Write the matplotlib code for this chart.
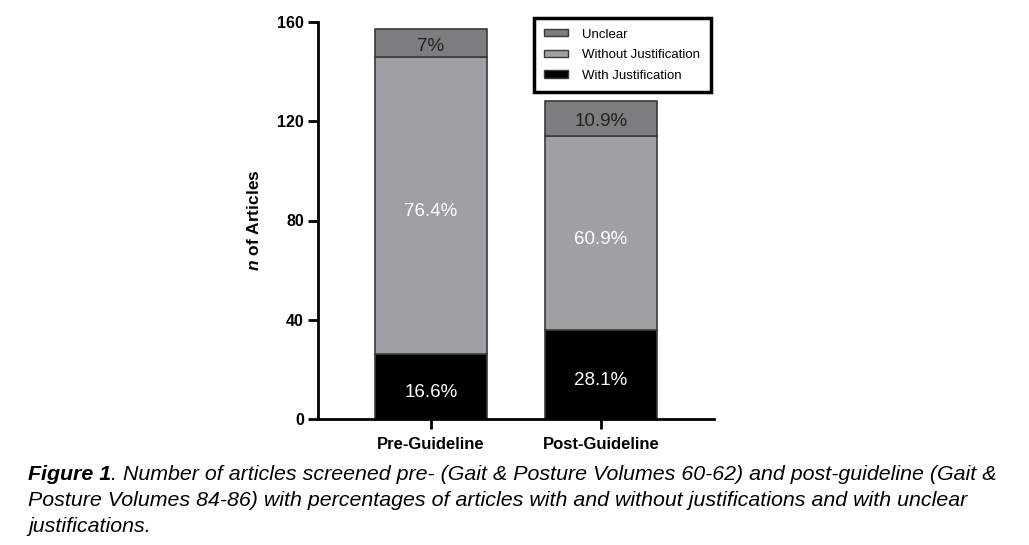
import matplotlib
matplotlib.use("Agg")
import matplotlib.pyplot as plt
from matplotlib.patches import Patch
import numpy as np

plt.rcParams['font.family'] = ['Liberation Sans', 'DejaVu Sans']
plt.rcParams['mathtext.fontset'] = 'custom'
plt.rcParams['mathtext.it'] = 'Liberation Sans:italic:bold'

# data
groups = ["Pre-Guideline", "Post-Guideline"]
with_just = [26, 36]
without_just = [120, 78]
unclear = [11, 14]
pct_with = ["16.6%", "28.1%"]
pct_without = ["76.4%", "60.9%"]
pct_unclear = ["7%", "10.9%"]

col_with = "#000000"
col_without = "#a0a0a4"
col_unclear = "#7d7d7f"
edge = "#3a3a3a"

fig = plt.figure(figsize=(10.29, 5.45), dpi=100)
ax = fig.add_axes([318 / 1029, 1 - 419 / 545, (714 - 318) / 1029, (419 - 22) / 545])

x = np.arange(len(groups))
w = 0.66
ax.bar(x, with_just, w, color=col_with, edgecolor=edge, linewidth=1.2, label="With Justification")
ax.bar(x, without_just, w, bottom=with_just, color=col_without, edgecolor=edge,
       linewidth=1.2, label="Without Justification")
bot3 = np.array(with_just) + np.array(without_just)
ax.bar(x, unclear, w, bottom=bot3, color=col_unclear, edgecolor=edge, linewidth=1.2,
       label="Unclear")

# labels sit a little below the segment middles in the original
nudge = -2.5
for i in range(len(groups)):
    ax.text(x[i], with_just[i] / 2 + nudge, pct_with[i], ha="center", va="center",
            color="white", fontsize=13.5)
    ax.text(x[i], with_just[i] + without_just[i] / 2 + nudge, pct_without[i], ha="center",
            va="center", color="white", fontsize=13.5)
    ax.text(x[i], bot3[i] + unclear[i] / 2 + nudge / 2, pct_unclear[i], ha="center",
            va="center", color="#222222", fontsize=13.5)

ax.set_xlim(-0.665, 1.665)
ax.set_ylim(0, 160)
ax.set_yticks([0, 40, 80, 120, 160])
ax.set_xticks(x)
ax.set_xticklabels(groups, fontweight="bold", fontsize=12)
for lab in ax.get_yticklabels():
    lab.set_fontweight("bold")
    lab.set_fontsize(11.5)
ax.tick_params(axis="both", length=7, width=2, direction="out", color="black")
ax.tick_params(axis="x", pad=6)
ax.tick_params(axis="y", pad=3)
for s in ["top", "right"]:
    ax.spines[s].set_visible(False)
for s in ["left", "bottom"]:
    ax.spines[s].set_linewidth(2)

ax.set_ylabel("$n$ of Articles", fontweight="bold", fontsize=12.5, labelpad=11)

handles = [Patch(facecolor=col_unclear, edgecolor=edge), Patch(facecolor=col_without, edgecolor=edge),
           Patch(facecolor=col_with, edgecolor=edge)]
leg = ax.legend(handles, ["Unclear", "Without Justification", "With Justification"],
                loc="upper right", bbox_to_anchor=(711 / 1029, 1 - 18 / 545),
                bbox_transform=fig.transFigure, fontsize=9.5, frameon=True, fancybox=False,
                framealpha=1, handlelength=1.8, handleheight=0.45, handletextpad=1.1,
                labelspacing=0.65, borderpad=0.8, borderaxespad=0)
leg.get_frame().set_edgecolor("black")
leg.get_frame().set_linewidth(2.5)

cap_lines = [
    "Number of articles screened pre- (Gait & Posture Volumes 60-62) and post-guideline (Gait &",
    "Posture Volumes 84-86) with percentages of articles with and without justifications and with unclear",
    "justifications.",
]
fs = 15.4
t = fig.text(28 / 1029, 1 - 475 / 545, "Figure 1", fontsize=fs, fontweight="bold", style="italic",
             va="center")
fig.canvas.draw()
bb = t.get_window_extent()
fig.text(bb.x1 / 1029, 1 - 475 / 545, ". " + cap_lines[0], fontsize=fs, style="italic", va="center")
fig.text(28 / 1029, 1 - 501 / 545, cap_lines[1], fontsize=fs, style="italic", va="center")
fig.text(28 / 1029, 1 - 526 / 545, cap_lines[2], fontsize=fs, style="italic", va="center")

fig.savefig("out.png", dpi=100)
